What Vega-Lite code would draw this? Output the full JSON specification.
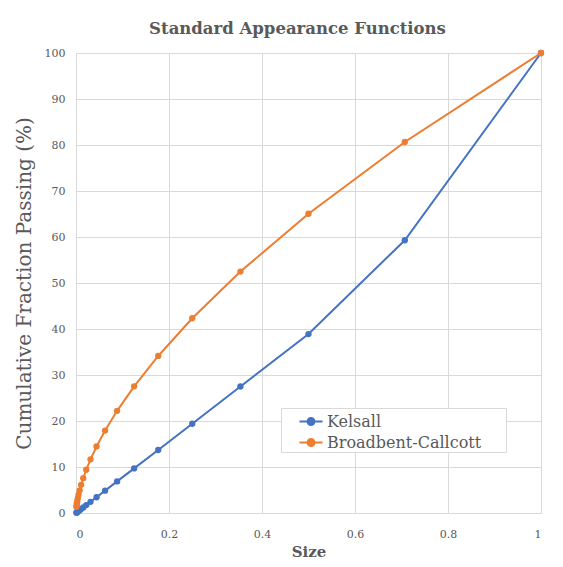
{
  "$schema": "https://vega.github.io/schema/vega-lite/v6.json",
  "width": 465,
  "height": 460,
  "autosize": {"type": "none"},
  "padding": {"left": 76, "top": 53, "right": 22, "bottom": 54},
  "background": "white",
  "config": {
    "view": {"stroke": null},
    "font": "DejaVu Serif",
    "axis": {
      "domain": false,
      "ticks": false,
      "gridColor": "#d9d9d9",
      "gridWidth": 1,
      "labelColor": "#595959",
      "labelFont": "DejaVu Serif",
      "labelFontSize": 11,
      "titleColor": "#595959",
      "titleFont": "DejaVu Serif"
    }
  },
  "title": {
    "text": "Standard Appearance Functions",
    "font": "DejaVu Serif",
    "fontSize": 16.5,
    "fontWeight": "bold",
    "color": "#595959",
    "anchor": "middle",
    "dx": -11,
    "offset": 10
  },
  "data": {
    "values": [
      {"series": "Kelsall", "size": 1.0, "passing": 100},
      {"series": "Kelsall", "size": 0.7071, "passing": 59.3},
      {"series": "Kelsall", "size": 0.5, "passing": 38.9},
      {"series": "Kelsall", "size": 0.3536, "passing": 27.5},
      {"series": "Kelsall", "size": 0.25, "passing": 19.4},
      {"series": "Kelsall", "size": 0.1768, "passing": 13.7},
      {"series": "Kelsall", "size": 0.125, "passing": 9.7},
      {"series": "Kelsall", "size": 0.0884, "passing": 6.87},
      {"series": "Kelsall", "size": 0.0625, "passing": 4.86},
      {"series": "Kelsall", "size": 0.0442, "passing": 3.43},
      {"series": "Kelsall", "size": 0.03125, "passing": 2.43},
      {"series": "Kelsall", "size": 0.0221, "passing": 1.72},
      {"series": "Kelsall", "size": 0.015625, "passing": 1.21},
      {"series": "Kelsall", "size": 0.01105, "passing": 0.86},
      {"series": "Kelsall", "size": 0.0078125, "passing": 0.61},
      {"series": "Kelsall", "size": 0.005524, "passing": 0.43},
      {"series": "Kelsall", "size": 0.003906, "passing": 0.3},
      {"series": "Kelsall", "size": 0.002762, "passing": 0.21},
      {"series": "Kelsall", "size": 0.001953, "passing": 0.15},
      {"series": "Kelsall", "size": 0.001381, "passing": 0.11},
      {"series": "Kelsall", "size": 0.000977, "passing": 0.08},
      {"series": "Broadbent-Callcott", "size": 1.0, "passing": 100},
      {"series": "Broadbent-Callcott", "size": 0.7071, "passing": 80.66},
      {"series": "Broadbent-Callcott", "size": 0.5, "passing": 65.06},
      {"series": "Broadbent-Callcott", "size": 0.3536, "passing": 52.48},
      {"series": "Broadbent-Callcott", "size": 0.25, "passing": 42.33},
      {"series": "Broadbent-Callcott", "size": 0.1768, "passing": 34.14},
      {"series": "Broadbent-Callcott", "size": 0.125, "passing": 27.54},
      {"series": "Broadbent-Callcott", "size": 0.0884, "passing": 22.21},
      {"series": "Broadbent-Callcott", "size": 0.0625, "passing": 17.92},
      {"series": "Broadbent-Callcott", "size": 0.0442, "passing": 14.45},
      {"series": "Broadbent-Callcott", "size": 0.03125, "passing": 11.66},
      {"series": "Broadbent-Callcott", "size": 0.0221, "passing": 9.4},
      {"series": "Broadbent-Callcott", "size": 0.015625, "passing": 7.58},
      {"series": "Broadbent-Callcott", "size": 0.01105, "passing": 6.12},
      {"series": "Broadbent-Callcott", "size": 0.0078125, "passing": 4.93},
      {"series": "Broadbent-Callcott", "size": 0.005524, "passing": 3.98},
      {"series": "Broadbent-Callcott", "size": 0.003906, "passing": 3.21},
      {"series": "Broadbent-Callcott", "size": 0.002762, "passing": 2.59},
      {"series": "Broadbent-Callcott", "size": 0.001953, "passing": 2.09},
      {"series": "Broadbent-Callcott", "size": 0.001381, "passing": 1.68},
      {"series": "Broadbent-Callcott", "size": 0.000977, "passing": 1.36}
    ]
  },
  "mark": {
    "type": "line",
    "strokeWidth": 2,
    "point": {"filled": true, "size": 40}
  },
  "encoding": {
    "x": {
      "field": "size",
      "type": "quantitative",
      "scale": {"domain": [0, 1], "nice": false, "zero": true},
      "axis": {
        "values": [0, 0.2, 0.4, 0.6, 0.8, 1],
        "format": "~g",
        "labelPadding": 15,
        "title": "Size",
        "titleFontSize": 15,
        "titleFontWeight": "bold",
        "titlePadding": 5
      }
    },
    "y": {
      "field": "passing",
      "type": "quantitative",
      "scale": {"domain": [0, 100], "nice": false},
      "axis": {
        "values": [0, 10, 20, 30, 40, 50, 60, 70, 80, 90, 100],
        "labelPadding": 11,
        "title": "Cumulative Fraction Passing (%)",
        "titleFontSize": 20,
        "titleFontWeight": "normal",
        "titlePadding": 10
      }
    },
    "color": {
      "field": "series",
      "type": "nominal",
      "scale": {
        "domain": ["Kelsall", "Broadbent-Callcott"],
        "range": ["#4472C4", "#ED7D31"]
      },
      "legend": {
        "title": null,
        "orient": "none",
        "legendX": 205,
        "legendY": 355,
        "padding": 1,
        "strokeColor": "#d9d9d9",
        "fillColor": "white",
        "labelFont": "DejaVu Serif",
        "labelFontSize": 16,
        "labelColor": "#595959",
        "labelOffset": 20,
        "rowPadding": 0,
        "symbolType": "M0.435,0H2.435M1.735,0A0.3,0.3,0,1,1,1.135,0A0.3,0.3,0,1,1,1.735,0ZM17.9,0",
        "symbolSize": 529,
        "symbolStrokeWidth": 2,
        "encode": {
          "symbols": {"update": {"fill": {"scale": "color", "field": "value"}}}
        }
      }
    }
  }
}
